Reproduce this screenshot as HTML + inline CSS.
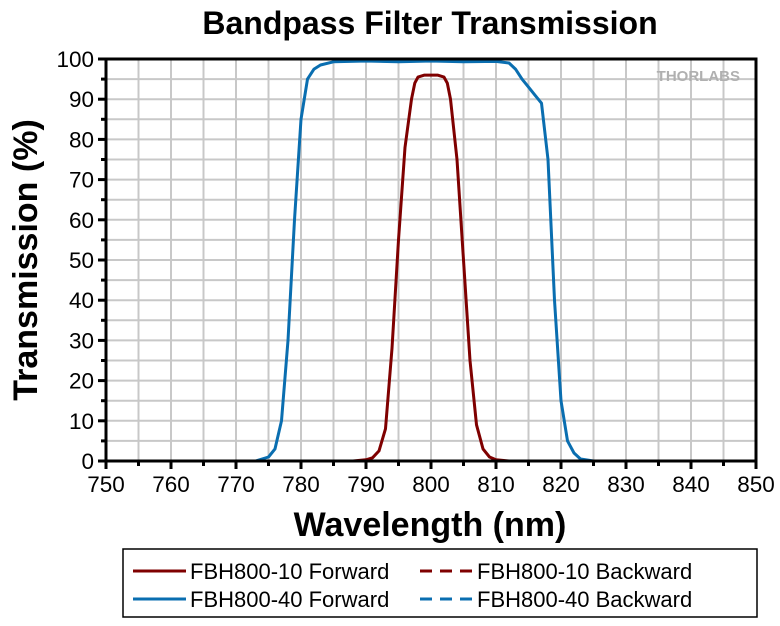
<!DOCTYPE html>
<html><head><meta charset="utf-8"><style>
body{margin:0;background:#fff;width:780px;height:621px;overflow:hidden;font-family:"Liberation Sans",Arial,sans-serif}
</style></head><body>
<svg id="c" width="780" height="621" xmlns="http://www.w3.org/2000/svg"></svg>
<script>
const xTicks=[750,760,770,780,790,800,810,820,830,840,850];
const yTicks=[0,10,20,30,40,50,60,70,80,90,100];
const wl10=[750,788,790,791,792,793,794,795,796,797,797.5,798,799,800,801,802,802.5,803,804,805,806,807,808,809,810,812,850];
const t10=[0,0,0.3,0.8,2.5,8,28,55,78,90,94,95.5,96,96,96,95.5,94,90,75,50,25,9,3,1,0.3,0,0];
const wl40=[750,773,775,776,777,778,779,780,781,782,783,785,790,795,800,805,810,812,813,814,815,816,817,818,819,820,821,822,823,825,850];
const t40=[0,0,1,3,10,30,60,85,95,97.5,98.5,99.3,99.5,99.3,99.5,99.3,99.4,99,97.5,95,93,91,89,75,40,15,5,2,0.5,0,0];
const svg=document.getElementById('c');const NS='http://www.w3.org/2000/svg';
const X0=106,X1=756,Y0=461,Y1=59;
const sx=v=>X0+(v-750)/(100)*(X1-X0);const sy=v=>Y0-v/100*(Y0-Y1);
function mk(t,a,p){const e=document.createElementNS(NS,t);for(const k in a)e.setAttribute(k,a[k]);(p||svg).appendChild(e);return e;}
const g=mk('g',{});


for(let v=755;v<850;v+=5)mk('line',{x1:sx(v),x2:sx(v),y1:Y1,y2:Y0,stroke:'#c8c8c8','stroke-width':2},g);
for(let v=5;v<100;v+=5)mk('line',{x1:X0,x2:X1,y1:sy(v),y2:sy(v),stroke:'#c8c8c8','stroke-width':2},g);
function series(w,t,col,name){const d=w.map((v,i)=>(i?'L':'M')+sx(v).toFixed(1)+','+sy(t[i]).toFixed(1)).join('');
 const p=mk('path',{d:d,fill:'none',stroke:col,'stroke-width':3,'stroke-linejoin':'round'});
 
 }
series(wl40,t40,'#0a6eb0','series-fbh800-40');
series(wl10,t10,'#7f0000','series-fbh800-10');
mk('rect',{x:X0,y:Y1,width:X1-X0,height:Y0-Y1,fill:'none',stroke:'#000','stroke-width':3});
const ax=mk('g',{});


for(let v=750;v<=850;v+=5){const maj=v%10==0;mk('line',{x1:sx(v),x2:sx(v),y1:Y0,y2:Y0+(maj?8:5),stroke:'#000','stroke-width':3},ax);}
xTicks.forEach(v=>{const t=mk('text',{x:sx(v),y:Y0+31,'text-anchor':'middle','font-size':22.5},ax);t.textContent=v;});
const ay=mk('g',{});


for(let v=0;v<=100;v+=5){const maj=v%10==0;mk('line',{x1:X0,x2:X0-(maj?8:5),y1:sy(v),y2:sy(v),stroke:'#000','stroke-width':3},ay);}
yTicks.forEach(v=>{const t=mk('text',{x:X0-12,y:sy(v)+8,'text-anchor':'end','font-size':22.5},ay);t.textContent=v;});
let t=mk('text',{x:430,y:34,'text-anchor':'middle','font-size':32,'font-weight':'bold'});t.textContent='Bandpass Filter Transmission';

t=mk('text',{x:430,y:536,'text-anchor':'middle','font-size':34,'font-weight':'bold'});t.textContent='Wavelength (nm)';

t=mk('text',{x:0,y:0,'text-anchor':'middle','font-size':34,'font-weight':'bold',transform:'translate(37,260) rotate(-90)'});t.textContent='Transmission (%)';

t=mk('text',{x:740,y:81,'text-anchor':'end','font-size':15,'font-weight':'bold',fill:'#b0b0b0'});t.textContent='THORLABS';

const lg=mk('g',{});


mk('rect',{x:123,y:549,width:634,height:68,fill:'#fff',stroke:'#000','stroke-width':1.5},lg);
const L=[[133,571,'#7f0000','','FBH800-10 Forward'],[420,571,'#7f0000','12 8','FBH800-10 Backward'],[133,599,'#0a6eb0','','FBH800-40 Forward'],[420,599,'#0a6eb0','12 8','FBH800-40 Backward']];
L.forEach(e=>{const gg=mk('g',{},lg);
 
 
 mk('line',{x1:e[0],x2:e[0]+53,y1:e[1],y2:e[1],stroke:e[2],'stroke-width':3,'stroke-dasharray':e[3]},gg);
 const tt=mk('text',{x:e[0]+57,y:e[1]+8,'font-size':22},gg);tt.textContent=e[4];});
</script>
</body></html>
